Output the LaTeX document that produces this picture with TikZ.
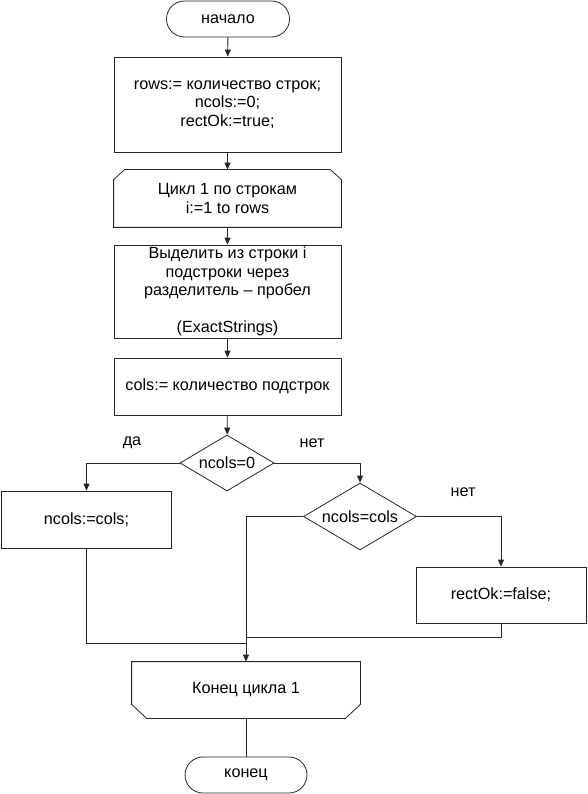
\documentclass[tikz,border=0pt]{standalone}
\usepackage{fontspec}
\setmainfont{Liberation Sans}
\usetikzlibrary{arrows.meta,shapes.geometric,calc}
\begin{document}
\begin{tikzpicture}[x=1pt,y=-1pt,
  every node/.style={font=\fontsize{16.2pt}{18.5pt}\selectfont, inner sep=0pt, align=center},
  ln/.style={draw=black!85, line width=0.8pt},
  arr/.style={ln, -{Triangle[length=7pt,width=6pt]}},
  procbox/.style={ln, rectangle, draw, minimum width=227pt, minimum height=57pt},
  termbox/.style={ln, rectangle, draw, rounded corners=18pt, minimum width=123pt, minimum height=36pt},
  decis/.style={ln, diamond, draw, aspect=1.68},
  lbl/.style={}
]
\useasboundingbox (0,0) rectangle (587,794);

\node[termbox] (start) at (228,19) {начало};
\node[procbox, minimum height=95pt] (init) at (227.5,104.5) {rows:= количество строк;\\ncols:=0;\\rectOk:=true;};
\node[procbox, draw=none] (loop) at (227.5,198.5) {Цикл 1 по строкам\\i:=1 to rows};
\draw[ln] (loop.south west) -- ([yshift=-10pt]loop.north west) -- ([xshift=11pt]loop.north west)
  -- ([xshift=-11pt]loop.north east) -- ([yshift=-10pt]loop.north east) -- (loop.south east) -- cycle;
\node[procbox, minimum height=93pt] (split) at (227.5,291.5) {Выделить из строки i\\подстроки через\\разделитель – пробел\\\\(ExactStrings)};
\node[procbox] (cols) at (227.5,386.5) {cols:= количество подстрок};
\node[decis, minimum width=94pt, minimum height=56pt] (d1) at (227,463) {ncols=0};
\node[ln, rectangle, draw, minimum width=170pt, minimum height=57pt] (setn) at (86.5,519.5) {ncols:=cols;};
\node[decis, minimum width=113pt, minimum height=67pt, aspect=1.7] (d2) at (360,516.5) {ncols=cols};
\node[ln, rectangle, draw, minimum width=170pt, minimum height=56pt] (rok) at (501,595) {rectOk:=false;};
\node[procbox, draw=none, minimum width=228pt, minimum height=56pt] (lend) at (246,690) {Конец цикла 1};
\draw[ln] (lend.north west) -- ([yshift=14pt]lend.south west) -- ([xshift=15pt]lend.south west)
  -- ([xshift=-15pt]lend.south east) -- ([yshift=14pt]lend.south east) -- (lend.north east) -- cycle;
\node[termbox, minimum width=122pt] (fin) at (246,775) {конец};

\node[lbl] (yes) at (132,443) {да};
\node[lbl] (no1) at (312,443) {нет};
\node[lbl] (no2) at (463,492) {нет};

\coordinate (mL) at (246,643);
\coordinate (mR) at (246,637);

\draw[arr] (start) -- (init);
\draw[arr] (init) -- (loop);
\draw[arr] (loop) -- (split);
\draw[arr] (split) -- (cols);
\draw[arr] (cols) -- (d1);
\draw[arr] (d1.west) -| (setn.north);
\draw[arr] (d1.east) -| (d2.north);
\draw[arr] (d2.east) -| (rok.north);
\draw[arr] (d2.west) -| (lend.north);
\draw[ln] (setn.south) |- (mL);
\draw[ln] (rok.south) |- (mR);
\draw[ln] (lend.south) -- (fin.north);
\end{tikzpicture}
\end{document}
